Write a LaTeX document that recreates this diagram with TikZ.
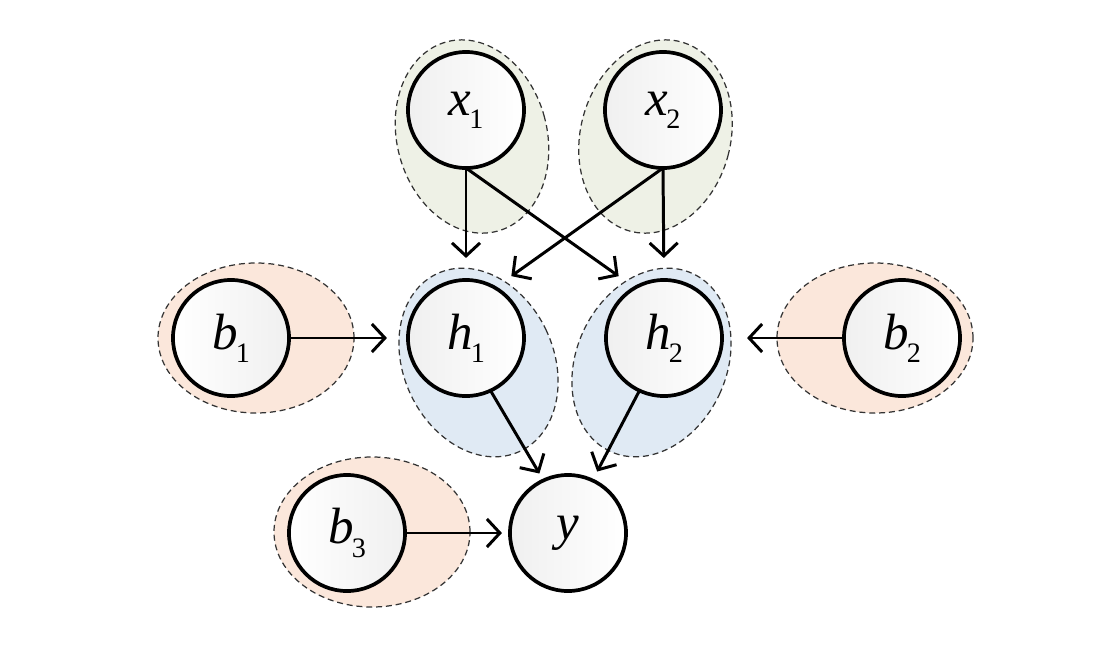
\documentclass[tikz,border=0pt]{standalone}
\usepackage{fontspec}
\setmainfont{Liberation Serif}
\usetikzlibrary{arrows.meta}
\definecolor{blobgreen}{HTML}{EEF1E6}
\definecolor{blobpeach}{HTML}{FBE7DB}
\definecolor{blobblue}{HTML}{E0EAF4}
\newcommand{\lab}[2]{{\itshape #1}\kern-0.5pt\raisebox{-3.8pt}{\fontsize{8}{9}\selectfont #2}}
\tikzset{
  unit/.style={circle, draw, line width=1.05pt, minimum size=1.16cm, inner sep=0pt, outer sep=0pt,
    left color=gray!12, right color=white, font=\fontsize{14.5}{16}\selectfont},
  unitr/.style={unit, left color=white, right color=gray!12},
  blob/.style={draw=black!80, dash pattern=on 1.7pt off 1.1pt, line width=0.35pt},
  arr/.style={-{Straight Barb[length=1.3mm,width=2.8mm]}, line width=0.85pt}
}
\begin{document}
\begin{tikzpicture}[x=0.01cm, y=0.01cm]
         \useasboundingbox (0,0) rectangle (1108,-648);
         % groups
         \draw[blob, fill=blobgreen, rotate around={15:(472,-136.5)}] (472,-136.5) ellipse [x radius=75, y radius=98];
         \draw[blob, fill=blobgreen, rotate around={-15:(655.5,-136.5)}] (655.5,-136.5) ellipse [x radius=75, y radius=98];
         \draw[blob, fill=blobblue, rotate around={25:(478.5,-362.5)}] (478.5,-362.5) ellipse [x radius=75, y radius=98];
         \draw[blob, fill=blobblue, rotate around={-25:(651.5,-362.5)}] (651.5,-362.5) ellipse [x radius=75, y radius=98];
         \draw[blob, fill=blobpeach] (256,-338) ellipse [x radius=98, y radius=75];
         \draw[blob, fill=blobpeach] (875,-338) ellipse [x radius=98, y radius=75];
         \draw[blob, fill=blobpeach] (372,-532) ellipse [x radius=98, y radius=75];
         % units
         \node[unit] (x1) at (466,-110) {\lab{x}{1}};
         \node[unit] (x2) at (663,-110) {\lab{x}{2}};
         \node[unit] (h1) at (466,-338) {\lab{h}{1}};
         \node[unit] (h2) at (664,-338) {\lab{h}{2}};
         \node[unitr] (b1) at (231,-338) {\lab{b}{1}};
         \node[unit] (b2) at (902,-338) {\lab{b}{2}};
         \node[unitr] (b3) at (347,-533) {\lab{b}{3}};
         \node[unit] (y) at (568,-533) {\itshape y};
         % connections
         \draw[arr, shorten >=0.22cm] (x1.south) -- (h1.north);
         \draw[arr, shorten >=0.2cm] (x1.south) -- (h2.120);
         \draw[arr, shorten >=0.2cm] (x2.south) -- (h1.60);
         \draw[arr, shorten >=0.22cm] (x2.south) -- (h2.north);
         \draw[arr, shorten >=0.21cm] (b1.east) -- (h1.west);
         \draw[arr, shorten >=0.25cm] (b2.west) -- (h2.east);
         \draw[arr, shorten >=0.08cm] (h1.295) -- (y.115);
         \draw[arr, shorten >=0.1cm] (h2.245) -- (y.65);
         \draw[arr, shorten >=0.08cm] (b3.east) -- (y.west);
\end{tikzpicture}
\end{document}
